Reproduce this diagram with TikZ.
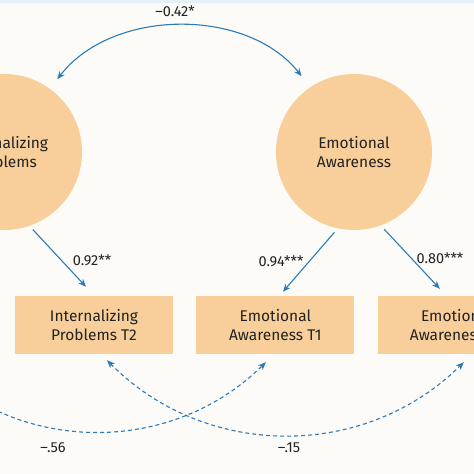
\documentclass[tikz,border=0pt]{standalone}
\usepackage{fontspec}
\setmainfont{Fira Sans}
\usetikzlibrary{arrows.meta,positioning}
\definecolor{semblue}{HTML}{2B7BB9}
\definecolor{semorange}{HTML}{F8CF9A}
\definecolor{sembg}{HTML}{FDFBF7}
\definecolor{semband}{HTML}{E6F1F5}
\definecolor{semtext}{HTML}{222222}
\tikzset{
  latent/.style={circle, fill=semorange, minimum size=156pt, inner sep=0pt, align=center, text=semtext, font=\fontsize{15.5}{18.5}\selectfont},
  observed/.style={fill=semorange, minimum width=158pt, minimum height=58pt, inner sep=0pt, align=center, text=semtext, font=\fontsize{15.5}{19}\selectfont},
  load/.style={-{Stealth[length=8pt,width=6.5pt]}, line width=1.1pt, draw=semblue},
  cov/.style={{Stealth[length=8pt,width=6.5pt]}-{Stealth[length=8pt,width=6.5pt]}, line width=1.1pt, draw=semblue},
  errcov/.style={cov, dash pattern=on 4pt off 3pt},
  coef/.style={text=semtext, font=\fontsize{14.5}{16}\selectfont}
}

\begin{document}
\begin{tikzpicture}[x=1pt,y=1pt]
  \fill[sembg] (0,0) rectangle (474,474);
  \fill[semband] (0,471) rectangle (474,474);
  \useasboundingbox (0,0) rectangle (474,474);
  \clip (0,0) rectangle (474,474);

  % latent factors
  \node[latent] (ip) at (4,322) {Internalizing\\Problems};
  \node[latent] (ea) at (354,322) {Emotional\\Awareness};

  % indicators
  \node[observed] (ip2) at (94,149) {Internalizing\\Problems T2};
  \node[observed, right=23pt of ip2] (ea1) {Emotional\\Awareness T1};
  \node[observed, right=23pt of ea1] (ea2) {Emotional\\Awareness T2};
  \coordinate (ip1) at (-74,114);

  % loadings
  \draw[load, shorten <=5pt] (ip.-71) -- ([shift={(-8pt,9pt)}]ip2.north);
  \draw[load, shorten <=5pt] (ea.-102) -- ([shift={(7.5pt,4pt)}]ea1.north);
  \draw[load, shorten <=5pt] (ea.-70) -- ([shift={(-17pt,7pt)}]ea2.north);

  % covariances
  \draw[cov, shorten <=12pt, shorten >=14pt] (ip.54) to[bend left=52] (ea.124);
  \draw[errcov] (ip1) to[bend right=45] ([shift={(-9.5pt,-8pt)}]ea1.south);
  \draw[errcov] ([shift={(13pt,-6pt)}]ip2.south) to[bend right=45] ([shift={(7pt,-8pt)}]ea2.south);

  % estimates
  \node[coef] (kfac) at (175,463) {–0.42*};
  \node[coef] (kip) at (92,214) {0.92**};
  \node[coef] (kea1) at (281,213) {0.94***};
  \node[coef] (kea2) at (440,216) {0.80***};
  \node[coef] (kres1) at (53,26) {–.56};
  \node[coef] (kres2) at (289,26) {–.15};
\end{tikzpicture}
\end{document}
